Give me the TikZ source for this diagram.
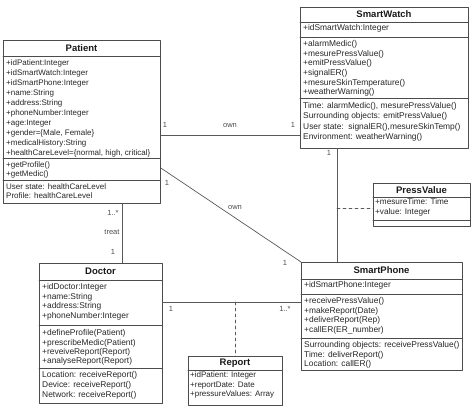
\documentclass[tikz,border=0pt]{standalone}
\usepackage{fontspec}
\setmainfont{Liberation Sans}
\usetikzlibrary{positioning}

\begin{document}
\begin{tikzpicture}[line cap=round,line join=round,x=1pt,y=-1pt,
  classbox/.style={draw=black!70,line width=0.8pt,anchor=north west,inner sep=0pt},
  classtitle/.style={font=\bfseries\fontsize{9.5}{11}\selectfont,text=black!90,inner sep=0pt},
  classtext/.style={anchor=north west,align=left,inner xsep=3pt,inner ysep=3pt,text=black!85,font=\fontsize{8.4}{9.8}\selectfont},
  divline/.style={draw=black!70,line width=0.6pt},
  assoc/.style={draw=black!65,line width=0.7pt},
  mult/.style={font=\fontsize{7.5}{9}\selectfont,text=black!70,inner sep=1pt}]
\useasboundingbox (0,0) rectangle (474,410);

% Patient
\node[classbox,minimum width=157pt,minimum height=163pt] (patient) at (3,40) {};
\node[classtitle] (patienttitle) at (81.5,48) {Patient};
\draw[divline] (patient.west |- 0,56) -- (patient.east |- 0,56);
\draw[divline] (patient.west |- 0,158) -- (patient.east |- 0,158);
\draw[divline] (patient.west |- 0,180.5) -- (patient.east |- 0,180.5);
\node[classtext,font=\fontsize{8}{10}\selectfont] (patientattr) at (3,56) {+idPatient:Integer\\ +idSmartWatch:Integer\\ +idSmartPhone:Integer\\ +name:String\\ +address:String\\ +phoneNumber:Integer\\ +age:Integer\\ +gender=\{Male, Female\}\\ +medicalHistory:String\\ +healthCareLevel=\{normal, high, critical\}};
\node[classtext,font=\fontsize{8}{9.5}\selectfont] (patientop) at (3,158) {+getProfile()\\ +getMedic()};
\node[classtext,font=\fontsize{8}{9.8}\selectfont,inner ysep=2.5pt] (patientctx) at (3,180.5) {User state: healthCareLevel\\ Profile: healthCareLevel};

% SmartWatch
\node[classbox,minimum width=168pt,minimum height=141pt] (watch) at (300,7) {};
\node[classtitle] (watchtitle) at (384,14.5) {SmartWatch};
\draw[divline] (watch.west |- 0,22) -- (watch.east |- 0,22);
\draw[divline] (watch.west |- 0,37.5) -- (watch.east |- 0,37.5);
\draw[divline] (watch.west |- 0,98) -- (watch.east |- 0,98);
\node[classtext,inner ysep=2.5pt] (watchattr) at (300,22) {+idSmartWatch:Integer};
\node[classtext,font=\fontsize{8.4}{9.6}\selectfont] (watchop) at (300,37.5) {+alarmMedic()\\ +mesurePressValue()\\ +emitPressValue()\\ +signalER()\\ +mesureSkinTemperature()\\ +weatherWarning()};
\node[classtext,font=\fontsize{8.4}{10.4}\selectfont,inner ysep=4pt] (watchctx) at (300,98) {Time: alarmMedic(), mesurePressValue()\\ Surrounding objects: emitPressValue()\\ User state:\ \ signalER(),mesureSkinTemp()\\ Environment: weatherWarning()};

% PressValue
\node[classbox,minimum width=97pt,minimum height=43pt] (press) at (373,183) {};
\node[classtitle] (presstitle) at (421.5,190) {PressValue};
\draw[divline] (press.west |- 0,197) -- (press.east |- 0,197);
\draw[divline] (press.west |- 0,220) -- (press.east |- 0,220);
\node[classtext,inner ysep=1.5pt,inner xsep=2pt,font=\fontsize{8.2}{9.6}\selectfont] (pressattr) at (373,197) {+mesureTime: Time\\ +value: Integer};

% Doctor
\node[classbox,minimum width=123pt,minimum height=140pt] (doctor) at (39,263) {};
\node[classtitle] (doctortitle) at (100.5,271.5) {Doctor};
\draw[divline] (doctor.west |- 0,280) -- (doctor.east |- 0,280);
\draw[divline] (doctor.west |- 0,325.5) -- (doctor.east |- 0,325.5);
\draw[divline] (doctor.west |- 0,368.5) -- (doctor.east |- 0,368.5);
\node[classtext] (doctorattr) at (39,280) {+idDoctor:Integer\\ +name:String\\ +address:String\\ +phoneNumber:Integer};
\node[classtext,font=\fontsize{8.4}{9.3}\selectfont,inner ysep=4pt] (doctorop) at (39,325.5) {+defineProfile(Patient)\\ +prescribeMedic(Patient)\\ +reveiveReport(Report)\\ +analyseReport(Report)};
\node[classtext] (doctorctx) at (39,368.5) {Location: receiveReport()\\ Device: receiveReport()\\ Network: receiveReport()};

% SmartPhone
\node[classbox,minimum width=161pt,minimum height=108pt] (phone) at (301,262) {};
\node[classtitle] (phonetitle) at (381.5,270.5) {SmartPhone};
\draw[divline] (phone.west |- 0,279) -- (phone.east |- 0,279);
\draw[divline] (phone.west |- 0,294) -- (phone.east |- 0,294);
\draw[divline] (phone.west |- 0,338) -- (phone.east |- 0,338);
\node[classtext,inner ysep=2.2pt] (phoneattr) at (301,279) {+idSmartPhone:Integer};
\node[classtext] (phoneop) at (301,294) {+receivePressValue()\\ +makeReport(Date)\\ +deliverReport(Rep)\\ +callER(ER\_number)};
\node[classtext] (phonectx) at (301,338) {Surrounding objects: receivePressValue()\\ Time: deliverReport()\\ Location: callER()};

% Report
\node[classbox,minimum width=94pt,minimum height=49pt] (report) at (188,356) {};
\node[classtitle] (reporttitle) at (235,363) {Report};
\draw[divline] (report.west |- 0,370) -- (report.east |- 0,370);
\node[classtext,inner ysep=1.5pt,inner xsep=2pt,font=\fontsize{8}{9.6}\selectfont] (reportattr) at (188,370) {+idPatient: Integer\\ +reportDate: Date\\ +pressureValues: Array};

% associations
\draw[assoc] (patient.east |- 0,135) -- (watch.west |- 0,135);
\node[mult] (m1) at (165,125) {1};
\node[mult] (own1) at (230,126) {own};
\node[mult] (m2) at (293,125) {1};

\draw[assoc] (patient.east |- 0,168) -- (phone.north west);
\node[mult] (m3) at (167,183) {1};
\node[mult] (own2) at (235,208) {own};
\node[mult] (m4) at (285,263) {1};

\draw[assoc] (patient.south -| 122,0) -- (doctor.north -| 122,0);
\node[mult] (m5) at (113,213) {1..*};
\node[mult] (treat) at (112,232) {treat};
\node[mult] (m6) at (113,252) {1};

\draw[assoc] (watch.south -| 337,0) -- (phone.north -| 337,0);
\node[mult] (m7) at (329,153) {1};
\coordinate (pressjoin) at (337,208);
\draw[assoc,dashed] (pressjoin) -- (press.west |- pressjoin);

\draw[assoc] (doctor.east |- 0,302) -- (phone.west |- 0,302);
\node[mult] (m8) at (171,309) {1};
\node[mult] (m9) at (285,309) {1..*};
\coordinate (reportjoin) at (report.north |- 0,302);
\draw[assoc,dashed] (reportjoin) -- (report.north);
\end{tikzpicture}
\end{document}
